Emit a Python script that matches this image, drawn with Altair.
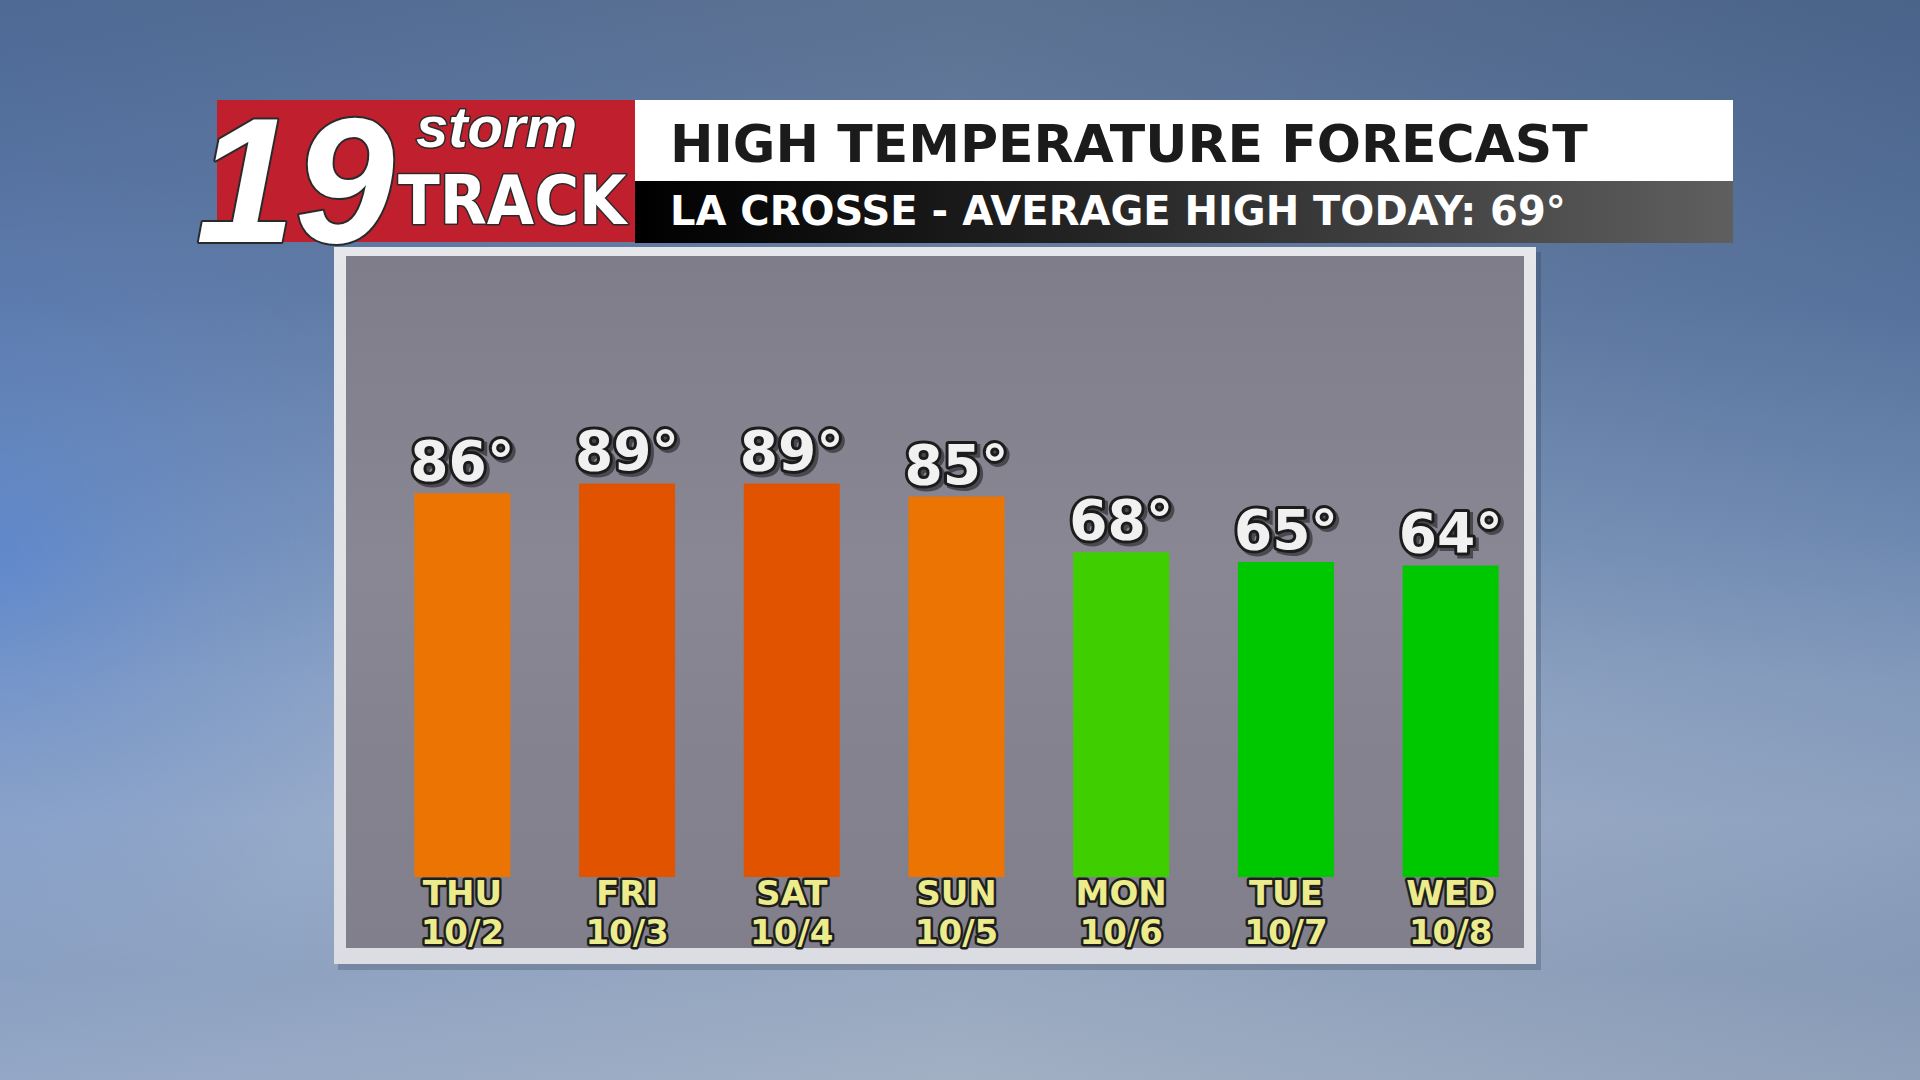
import altair as alt
import pandas as pd

# ---- data ----
days = ["THU", "FRI", "SAT", "SUN", "MON", "TUE", "WED"]
dates = ["10/2", "10/3", "10/4", "10/5", "10/6", "10/7", "10/8"]
highs = [86, 89, 89, 85, 68, 65, 64]

title_text = "HIGH TEMPERATURE FORECAST"
subtitle_text = "LA CROSSE - AVERAGE HIGH TODAY: 69°"

# colour bands (threshold scale)
band_limits = [66, 80, 87]
band_colors = ["#00c800", "#3fcf00", "#ec7402", "#e25300"]

df = pd.DataFrame({"day": days, "date": dates, "high": highs})
one = pd.DataFrame({"k": [0]})

W, H = 1920, 1080
Y_BASE = -31
PX_PER_DEG = 3.28
BAR_BOTTOM = 877

FONT = "DejaVu Sans"

x_enc = alt.X(
    "day:N",
    sort=days,
    scale=alt.Scale(range=[380, 1533], paddingInner=0.417, paddingOuter=0.2085),
    axis=None,
)
y_scale = alt.Scale(
    domain=[Y_BASE, 100],
    range=[BAR_BOTTOM, BAR_BOTTOM - (100 - Y_BASE) * PX_PER_DEG],
)


def box(x1, x2, y1, y2, fill, **kw):
    return alt.Chart(one).mark_rect(fill=fill, **kw).encode(
        x=alt.value(x1), x2=alt.value(x2), y=alt.value(y1), y2=alt.value(y2)
    )


def label(text, x, y, size, color, font=FONT, weight="bold", style="normal",
          align="left", stroke=None, sw=0):
    layers = []
    if stroke:
        layers.append(
            alt.Chart(one).mark_text(
                text=text, font=font, fontSize=size, fontWeight=weight,
                fontStyle=style, align=align, baseline="alphabetic",
                fill=stroke, stroke=stroke, strokeWidth=sw, strokeJoin="round",
            ).encode(x=alt.value(x), y=alt.value(y))
        )
    layers.append(
        alt.Chart(one).mark_text(
            text=text, font=font, fontSize=size, fontWeight=weight,
            fontStyle=style, align=align, baseline="alphabetic", fill=color,
        ).encode(x=alt.value(x), y=alt.value(y))
    )
    return layers


# ---- background ----
bg = box(0, W, 0, H, alt.Gradient(
    gradient="linear", x1=0, y1=0, x2=0, y2=1,
    stops=[
        alt.GradientStop(color="#4f6586", offset=0),
        alt.GradientStop(color="#5f789f", offset=0.28),
        alt.GradientStop(color="#7e96b9", offset=0.5),
        alt.GradientStop(color="#98abc7", offset=0.63),
        alt.GradientStop(color="#a6b5cb", offset=0.76),
        alt.GradientStop(color="#9cabc0", offset=0.9),
        alt.GradientStop(color="#a8b4c5", offset=1),
    ],
))
bg_h = box(0, W, 0, H, alt.Gradient(
    gradient="linear", x1=0, y1=0, x2=1, y2=0,
    stops=[
        alt.GradientStop(color="#4a78c8", offset=0),
        alt.GradientStop(color="#8ca0be", offset=0.5),
        alt.GradientStop(color="#365a92", offset=1),
    ],
), opacity=0.22)
# square box so the radial gradient is a true circle fading to transparent
glow = box(-420, 420, 140, 980, alt.RadialGradient(
    gradient="radial", x1=0.5, y1=0.5, r1=0, x2=0.5, y2=0.5, r2=0.5,
    stops=[
        alt.GradientStop(color="rgba(80,130,215,0.55)", offset=0),
        alt.GradientStop(color="rgba(95,135,200,0.25)", offset=0.5),
        alt.GradientStop(color="rgba(110,140,190,0)", offset=1),
    ],
))

# ---- header ----
white_bar = box(635, 1733, 100, 181, "#ffffff")
dark_bar = box(635, 1733, 181, 243, alt.Gradient(
    gradient="linear", x1=0, y1=0, x2=1, y2=0,
    stops=[
        alt.GradientStop(color="#000000", offset=0),
        alt.GradientStop(color="#1e1e1e", offset=0.35),
        alt.GradientStop(color="#5f5f5f", offset=1),
    ],
))
red_box = box(217, 635, 100, 242, "#c01f2e")

title_layers = label(title_text, 670, 162, 52, "#1b1b1b")
sub_layers = label(subtitle_text, 670, 225, 40, "#ffffff")

logo_19 = label("19", 196, 242, 178, "#ffffff", font="Liberation Sans",
                style="italic", stroke="#2a2a2a", sw=4)
logo_storm = label("storm", 416, 147, 58, "#ffffff", font="Liberation Sans",
                   style="italic", stroke="#2a2a2a", sw=3)
logo_track = label("TRACK", 398, 224, 68, "#ffffff",
                   font="Liberation Sans Narrow, DejaVu Sans Condensed, Liberation Sans",
                   stroke="#2a2a2a", sw=3)

# ---- panel ----
shadow = box(338, 1541, 252, 970, "rgba(40,50,70,0.25)")
frame = box(334, 1536, 247, 964, alt.Gradient(
    gradient="linear", x1=0, y1=0, x2=0, y2=1,
    stops=[
        alt.GradientStop(color="#e6e7ea", offset=0),
        alt.GradientStop(color="#dcdde2", offset=1),
    ],
))
inner = box(346, 1524, 256, 948, alt.Gradient(
    gradient="linear", x1=0, y1=0, x2=0, y2=1,
    stops=[
        alt.GradientStop(color="#7f7d89", offset=0),
        alt.GradientStop(color="#898793", offset=0.45),
        alt.GradientStop(color="#84828e", offset=0.75),
        alt.GradientStop(color="#817f8b", offset=1),
    ],
))

# ---- data marks ----
base = alt.Chart(df)

bars = base.mark_bar().encode(
    x=x_enc,
    y=alt.Y("high:Q", scale=y_scale, axis=None),
    y2=alt.datum(Y_BASE),
    color=alt.Color("high:Q", scale=alt.Scale(type="threshold", domain=band_limits,
                                              range=band_colors), legend=None),
)

val_common = dict(font=FONT, fontSize=55, fontWeight="bold", align="center",
                  baseline="alphabetic", dy=-13)
val_txt = base.transform_calculate(lbl="datum.high + '°'")
val_shadow = val_txt.mark_text(fill="#000000", opacity=0.45, dx=3, dy=-10,
                               font=FONT, fontSize=55, fontWeight="bold",
                               align="center", baseline="alphabetic",
                               stroke="#000000", strokeWidth=6).encode(
    x=x_enc, y=alt.Y("high:Q", scale=y_scale), text="lbl:N")
val_stroke = val_txt.mark_text(fill="#1c1c1c", stroke="#1c1c1c", strokeWidth=6,
                               strokeJoin="round", **val_common).encode(
    x=x_enc, y=alt.Y("high:Q", scale=y_scale), text="lbl:N")
val_fill = val_txt.mark_text(fill="#f1f1f1", **val_common).encode(
    x=x_enc, y=alt.Y("high:Q", scale=y_scale), text="lbl:N")

# day + date as one two-line label
dl = base.transform_calculate(dl="datum.day + '\\n' + datum.date")
dl_common = dict(font=FONT, fontSize=34, fontWeight="bold", align="center",
                 baseline="alphabetic", lineBreak="\n", lineHeight=39)
dl_stroke = dl.mark_text(fill="#1e1e1e", stroke="#1e1e1e", strokeWidth=5,
                         strokeJoin="round", **dl_common).encode(
    x=x_enc, y=alt.value(905), text="dl:N")
dl_fill = dl.mark_text(fill="#ecec8c", **dl_common).encode(
    x=x_enc, y=alt.value(905), text="dl:N")

chart = alt.layer(
    bg, bg_h, glow,
    white_bar, dark_bar, red_box,
    *title_layers, *sub_layers,
    *logo_19, *logo_storm, *logo_track,
    shadow, frame, inner,
    bars,
    val_shadow, val_stroke, val_fill,
    dl_stroke, dl_fill,
).properties(
    width=W, height=H,
    autosize=alt.AutoSizeParams(type="none"),
    padding=0,
).configure_view(stroke=None).configure(background="#8ea2be")

chart.save("out.html", embed_options={"renderer": "svg", "actions": False})
